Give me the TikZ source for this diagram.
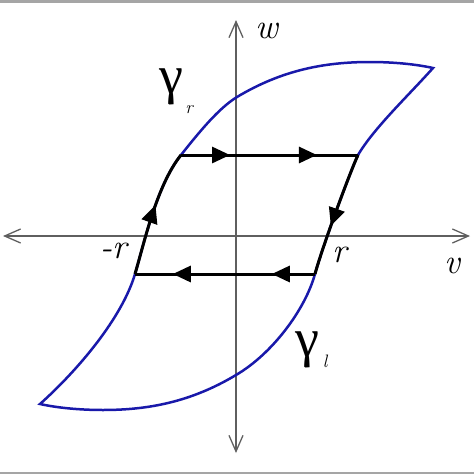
\documentclass[tikz,border=0pt]{standalone}
\usepackage{fontspec}
\newfontfamily\gfont{Liberation Serif}
\usetikzlibrary{arrows.meta,decorations.markings}
\definecolor{loopblue}{RGB}{25,25,170}
\definecolor{axisgray}{RGB}{95,95,95}
\definecolor{framegray}{RGB}{165,165,165}
\tikzset{
  axisline/.style={draw=axisgray, line width=1.3pt, {Straight Barb[length=16pt,width=14pt]}-{Straight Barb[length=16pt,width=14pt]}},
  loopline/.style={draw=loopblue, line width=2.5pt, line join=miter},
  playline/.style={draw=black, line width=3pt},
  mk/.style={postaction={decorate,decoration={markings,mark=at position #1 with {\arrow{Triangle[length=18pt,width=16pt]}}}}},
  lbl/.style={inner sep=0pt, anchor=base, font=\fontsize{35}{35}\selectfont\itshape},
  glbl/.style={inner sep=0pt, anchor=base, font=\gfont\fontsize{54}{54}\selectfont},
  sublbl/.style={inner sep=0pt, anchor=base, font=\fontsize{18}{18}\selectfont\itshape}
}
\begin{document}
\begin{tikzpicture}[x=1pt,y=-1pt]
\useasboundingbox (0,0) rectangle (474,474);
\fill[framegray] (0,0) rectangle (474,2.5);
\fill[framegray] (0,471.5) rectangle (474,474);
% axes
\coordinate (xl) at (3,236);
\coordinate (xr) at (470,236);
\coordinate (yt) at (236,20);
\coordinate (yb) at (236,453);
\draw[axisline] (xl) -- (xr);
\draw[axisline] (yb) -- (yt);
% key points of the loop
\coordinate (P0) at (40,404);
\coordinate (P1) at (135,274);
\coordinate (P2) at (181,155);
\coordinate (M) at (237,97);
\coordinate (Q) at (370,62);
\coordinate (P3) at (433,68);
\coordinate (R1) at (358,155);
\coordinate (R2) at (315,274);
\coordinate (Mr) at (236,375);
\coordinate (Qr) at (103,410);
% blue loop
\draw[loopline] (P0) .. controls (78,370) and (122,318) .. (P1)
  .. controls (145,240) and (157,185) .. (P2)
  .. controls (200,131) and (219,108) .. (M)
  .. controls (282,70) and (325,62) .. (Q)
  .. controls (392,62) and (415,64) .. (P3)
  .. controls (408,96) and (374,128) .. (R1)
  .. controls (350,172) and (322,248) .. (R2)
  .. controls (305,310) and (272,354) .. (Mr)
  .. controls (191,402) and (148,410) .. (Qr)
  .. controls (81,410) and (58,408) .. (P0) -- cycle;
% inner black loop
\draw[playline, mk=0.277, mk=0.768] (P2) -- (R1);
\draw[playline, mk=0.24, mk=0.79] (R2) -- (P1);
\draw[playline, mk=0.56] (P1) .. controls (145,240) and (157,185) .. (P2);
\draw[playline, mk=0.6] (R1) .. controls (350,172) and (322,248) .. (R2);
% labels
\node[lbl] (w) at (267,38) {w};
\node[lbl] (v) at (452,273) {v};
\node[lbl] (mr) at (114,258) {-r};
\node[lbl] (pr) at (340,262) {r};
\node[glbl] (gr) at (171,93) {γ};
\node[sublbl] (grs) at (189,113) {r};
\node[glbl] (gl) at (307,356) {γ};
\node[sublbl] (gls) at (325,367) {l};
\end{tikzpicture}
\end{document}
